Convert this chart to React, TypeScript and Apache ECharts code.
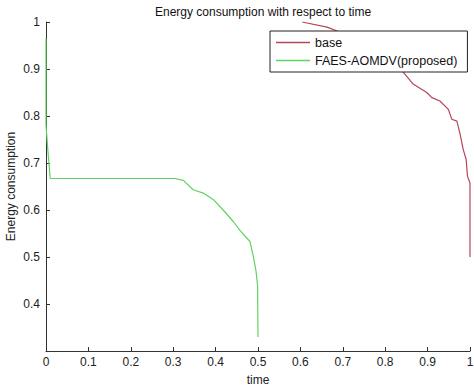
import React, { useEffect, useRef } from "react";
import * as echarts from "echarts";

const xTicks = [0, 0.1, 0.2, 0.3, 0.4, 0.5, 0.6, 0.7, 0.8, 0.9, 1];
const yTicks = [0.4, 0.5, 0.6, 0.7, 0.8, 0.9, 1];

const baseX = [0.604, 0.663, 0.7, 0.75, 0.8, 0.843, 0.866, 0.898, 0.91, 0.929, 0.949, 0.957, 0.969, 0.976, 0.984, 0.991, 0.994, 1.0, 1.0];
const baseY = [1.0, 0.989, 0.976, 0.955, 0.927, 0.893, 0.868, 0.85, 0.839, 0.832, 0.814, 0.793, 0.789, 0.764, 0.729, 0.707, 0.672, 0.657, 0.5];

const faesX = [0, 0, 0.005, 0.01, 0.304, 0.324, 0.347, 0.371, 0.395, 0.418, 0.442, 0.458, 0.481, 0.489, 0.495, 0.499, 0.5];
const faesY = [0.965, 0.78, 0.72, 0.667, 0.667, 0.663, 0.643, 0.636, 0.622, 0.6, 0.575, 0.556, 0.533, 0.501, 0.472, 0.44, 0.33];

const FONT = "Liberation Sans, Arial, sans-serif";
const LINE_ICON = "path://M0,0 L34,0 L34,1.3 L0,1.3 Z";

export default function App() {
  const ref = useRef<HTMLDivElement>(null);
  useEffect(() => {
    if (!ref.current) return;
    const chart = echarts.init(ref.current, undefined, { renderer: "svg" });
    const axisCommon = {
      axisLine: { show: true, lineStyle: { color: "#333", width: 1 } },
      axisTick: { show: true, inside: true, length: 4, lineStyle: { color: "#333" } },
      axisLabel: { color: "#222", fontSize: 12, fontFamily: FONT },
      splitLine: { show: false },
      nameTextStyle: { color: "#222", fontSize: 12, fontFamily: FONT },
    };
    chart.setOption({
      animation: false,
      backgroundColor: "#fff",
      title: {
        text: "Energy consumption with respect to time",
        left: 258,
        textAlign: "center",
        top: 1,
        textStyle: { fontSize: 12, fontWeight: "normal", color: "#111", fontFamily: FONT },
      },
      grid: { left: 46, right: 4, top: 22, bottom: 38, outerBoundsMode: "none", containLabel: false },
      xAxis: {
        type: "value",
        min: 0,
        max: 1,
        interval: 0.1,
        name: "time",
        nameLocation: "middle",
        nameGap: 23,
        nameMoveOverlap: false,
        ...axisCommon,
        axisLabel: {
          ...axisCommon.axisLabel,
          margin: 5,
          formatter: (v: number) => {
            const t = xTicks.find((k) => Math.abs(k - v) < 1e-6);
            return t === undefined ? "" : String(t);
          },
        },
      },
      yAxis: {
        type: "value",
        min: 0.3,
        max: 1,
        interval: 0.1,
        name: "Energy consumption",
        nameLocation: "middle",
        nameGap: 29,
        nameMoveOverlap: false,
        ...axisCommon,
        axisLabel: {
          ...axisCommon.axisLabel,
          margin: 6,
          showMinLabel: false,
          formatter: (v: number) => {
            const t = yTicks.find((k) => Math.abs(k - v) < 1e-6);
            return t === undefined ? "" : String(t);
          },
        },
      },
      legend: {
        orient: "vertical",
        left: 270,
        top: 31,
        width: 200,
        padding: [5, 10, 5, 6],
        itemGap: 5,
        itemWidth: 34,
        itemHeight: 13,
        backgroundColor: "#fff",
        borderColor: "#222",
        borderWidth: 1,
        borderRadius: 0,
        textStyle: { fontSize: 12.5, color: "#111", fontFamily: FONT },
        data: [
          { name: "base", icon: LINE_ICON },
          { name: "FAES-AOMDV(proposed)", icon: LINE_ICON },
        ],
      },
      series: [
        {
          name: "base",
          type: "line",
          symbol: "none",
          lineStyle: { color: "#b5475a", width: 1.2 },
          itemStyle: { color: "#b5475a" },
          data: baseX.map((x, i) => [x, baseY[i]]),
        },
        {
          name: "FAES-AOMDV(proposed)",
          type: "line",
          symbol: "none",
          lineStyle: { color: "#5fd35f", width: 1.2 },
          itemStyle: { color: "#5fd35f" },
          data: faesX.map((x, i) => [x, faesY[i]]),
        },
      ],
    });
    return () => chart.dispose();
  }, []);
  return (
    <div
      ref={ref}
      style={{ position: "fixed", left: 0, top: 0, width: 474, height: 389, background: "#fff" }}
    />
  );
}
